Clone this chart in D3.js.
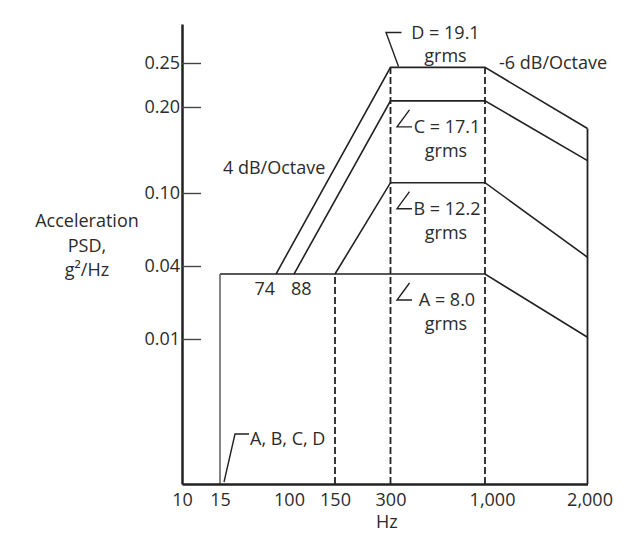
<!DOCTYPE html>
<html>
<head>
<meta charset="utf-8">
<script src="https://cdn.jsdelivr.net/npm/d3@7"></script>
<style>
  html, body { margin: 0; padding: 0; background: #fff; }
  svg text { font-family: "Open Sans", "Liberation Sans", sans-serif; fill: #2b2b2b; }
</style>
</head>
<body>
<svg id="chart" width="640" height="534"></svg>
<script>
// ---- data (schematic PSD profile) ----
const xTickValues = [10, 15, 100, 150, 300, 1000, 2000];
const yTickValues = [0.01, 0.04, 0.10, 0.20, 0.25];
const curveNames = ["A", "B", "C", "D"];
const grmsValues = ["8.0", "12.2", "17.1", "19.1"];
const rampStartHz = [150, 150, 88, 74];          // start of 4 dB/Octave ramp (A has none)
const plateauPSD = [0.0367, 0.112, 0.207, 0.245];  // read against the schematic axis
const endPSD = [0.0107, 0.0472, 0.1376, 0.175];    // value at 2,000 Hz
const baseHz = 15, plateauStartHz = 300, plateauEndHz = 1000, endHz = 2000;
const dashedHz = [150, 300, 1000];
const rampLabels = [74, 88];

// ---- scales (schematic, piecewise) ----
const x = d3.scaleLinear()
  .domain([10, 15, 74, 88, 100, 150, 300, 1000, 2000])
  .range([182, 220, 276, 294, 289, 335, 390.5, 485, 587.5]);
const y = d3.scaleLinear()
  .domain([0, 0.01, 0.04, 0.10, 0.20, 0.25, 0.30])
  .range([484, 339, 266, 193, 107, 63, 24]);

const svg = d3.select("#chart");
const ink = "#222";
const FS = 18;

// ---- profile lines ----
const line = d3.line().x(d => x(d[0])).y(d => y(d[1]));
const aLevel = plateauPSD[0];

curveNames.forEach((name, i) => {
  let pts;
  if (i === 0) {
    pts = [[baseHz, aLevel], [plateauEndHz, aLevel], [endHz, endPSD[i]]];
  } else {
    pts = [[rampStartHz[i], aLevel], [plateauStartHz, plateauPSD[i]],
           [plateauEndHz, plateauPSD[i]], [endHz, endPSD[i]]];
  }
  svg.append("path").attr("d", line(pts))
    .attr("fill", "none").attr("stroke", ink).attr("stroke-width", 1.6);
});

// 15 Hz start line (grey)
svg.append("path").attr("d", line([[baseHz, 0], [baseHz, aLevel]]))
  .attr("fill", "none").attr("stroke", "#666").attr("stroke-width", 1.6);

// 2,000 Hz closing line
svg.append("path").attr("d", line([[endHz, endPSD[3]], [endHz, 0]]))
  .attr("fill", "none").attr("stroke", ink).attr("stroke-width", 1.8);

// dashed verticals
dashedHz.forEach(hz => {
  const top = hz === 150 ? aLevel : plateauPSD[3];
  svg.append("path").attr("d", line([[hz, 0], [hz, top]]))
    .attr("fill", "none").attr("stroke", ink).attr("stroke-width", 1.8)
    .attr("stroke-dasharray", "7,3");
});

// ---- axes ----
const yAxis = d3.axisLeft(y).tickValues(yTickValues)
  .tickFormat(d3.format(".2f")).tickSize(-19).tickSizeOuter(0).tickPadding(2);
const gy = svg.append("g").attr("transform", `translate(${x(10)},0)`).call(yAxis);
gy.select(".domain").attr("stroke", ink).attr("stroke-width", 2.5);
gy.selectAll(".tick line").attr("stroke", "#444").attr("stroke-width", 1.4);
gy.selectAll(".tick text").attr("font-size", FS).attr("fill", "#2b2b2b")
  .attr("font-family", "Open Sans");

const xAxis = d3.axisBottom(x).tickValues(xTickValues)
  .tickFormat(d3.format(",")).tickSize(0).tickSizeOuter(0).tickPadding(9);
const gx = svg.append("g").attr("transform", `translate(0,${y(0)})`).call(xAxis);
gx.select(".domain").attr("stroke", ink).attr("stroke-width", 2.5);
gx.selectAll(".tick text").attr("font-size", FS).attr("fill", "#2b2b2b")
  .attr("font-family", "Open Sans")
  .attr("dx", d => d === 1000 ? 7 : (d === 2000 ? 2 : 0));

// axis titles
svg.append("text").attr("x", (x(300) + x(150)) / 2 + 24).attr("y", 528)
  .attr("text-anchor", "middle").attr("font-size", FS).text("Hz");
const yTitle = ["Acceleration", "PSD,", "g²/Hz"];
yTitle.forEach((t, i) => {
  svg.append("text").attr("x", 87).attr("y", 227 + i * 24.5)
    .attr("text-anchor", "middle").attr("font-size", FS).text(t);
});

// ---- annotations ----
const stroke1 = sel => sel.attr("fill", "none").attr("stroke", ink).attr("stroke-width", 1.4);
const labelX = x(300) + 55;

// D label (above its plateau)
svg.append("text").attr("x", labelX).attr("y", 39).attr("text-anchor", "middle")
  .attr("font-size", FS).text(`${curveNames[3]} = ${grmsValues[3]}`);
svg.append("text").attr("x", labelX).attr("y", 62).attr("text-anchor", "middle")
  .attr("font-size", FS).text("grms");
svg.append("path").attr("d", `M${x(300) + 11},32.5H${x(300) - 4.5}L${x(300) + 8},${y(plateauPSD[3]) - 1}`).call(stroke1);

// C, B, A labels (below their plateaus)
[2, 1, 0].forEach(i => {
  const yl = y(plateauPSD[i]);
  svg.append("path")
    .attr("d", `M${x(300) + 19},${yl + 9}L${x(300) + 6.5},${yl + 26}H${x(300) + 21.5}`)
    .call(stroke1);
  svg.append("text").attr("x", labelX + 1.5).attr("y", yl + 32).attr("text-anchor", "middle")
    .attr("font-size", FS).text(`${curveNames[i]} = ${grmsValues[i]}`);
  svg.append("text").attr("x", labelX + 0.5).attr("y", yl + 56).attr("text-anchor", "middle")
    .attr("font-size", FS).text("grms");
});

// slope labels
svg.append("text").attr("x", 223).attr("y", 174).attr("font-size", FS).text("4 dB/Octave");
svg.append("text").attr("x", 499).attr("y", 69).attr("font-size", FS).text("-6 dB/Octave");

// ramp start labels
svg.append("text").attr("x", x(rampLabels[0]) - 1).attr("y", y(aLevel) + 20.5)
  .attr("text-anchor", "end").attr("font-size", FS).text(rampLabels[0]);
svg.append("text").attr("x", x(rampLabels[1]) - 3).attr("y", y(aLevel) + 20.5)
  .attr("text-anchor", "start").attr("font-size", FS).text(rampLabels[1]);

// A, B, C, D leader at 15 Hz
svg.append("path").attr("d", `M${x(15) + 4},${y(0) - 2}L${x(15) + 15},434H${x(15) + 29}`).call(stroke1);
svg.append("text").attr("x", x(15) + 30).attr("y", 444.5).attr("font-size", FS)
  .text(curveNames.join(", "));
</script>
</body>
</html>
